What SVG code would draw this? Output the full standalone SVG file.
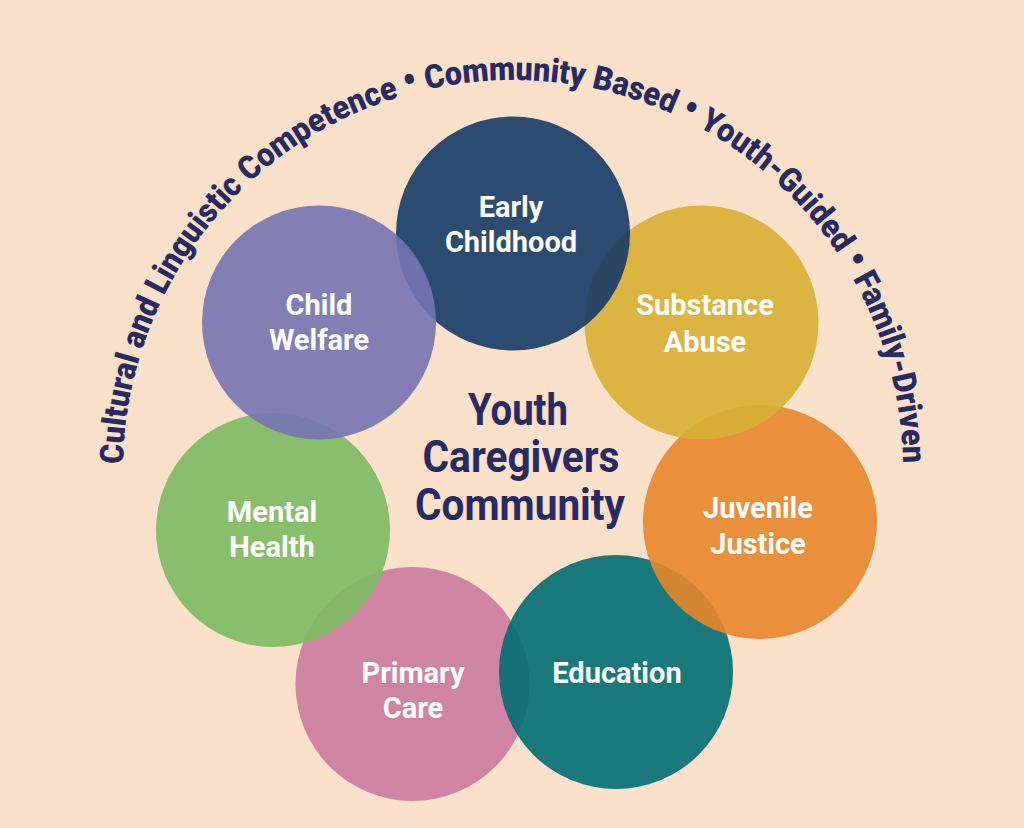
<svg xmlns="http://www.w3.org/2000/svg" xmlns:xlink="http://www.w3.org/1999/xlink" width="1024" height="828" viewBox="0 0 1024 828">
<style>
.bg{fill:#FBE1CA}
.c{fill-opacity:0.9}
.lbl{font-family:Roboto,"Liberation Sans",sans-serif;font-weight:700;font-size:29px;fill:#FFFFFF;text-anchor:middle}
.ctr{font-family:Roboto,"Liberation Sans",sans-serif;font-weight:700;font-size:45px;fill:#272B64;text-anchor:middle}
.arc{font-family:Roboto,"Liberation Sans",sans-serif;font-weight:900;font-size:33px;fill:#272B64}
.dot{font-size:40px}
</style>
<defs>
<path id="arcPath" d="M 123 470 A 390 390 0 0 1 903 470"/>
</defs>
<rect class="bg" x="0" y="0" width="1024" height="828"/>
<g id="connectors"></g>
<g id="primary-care"><circle class="c" cx="412.5" cy="684" r="117" fill="#CB7A9F"/><text class="lbl" x="413" y="683">Primary</text><text class="lbl" x="413" y="718">Care</text></g>
<g id="mental-health"><circle class="c" cx="273" cy="530" r="117" fill="#7CBB62"/><text class="lbl" x="272" y="522">Mental</text><text class="lbl" x="272" y="557">Health</text></g>
<g id="education"><circle class="c" cx="616" cy="672" r="117" fill="#006E73"/><text class="lbl" x="617" y="683">Education</text></g>
<g id="juvenile-justice"><circle class="c" cx="760" cy="522" r="117" fill="#E8862C"/><text class="lbl" x="758" y="518">Juvenile</text><text class="lbl" x="758" y="554">Justice</text></g>
<g id="substance-abuse"><circle class="c" cx="701.5" cy="322.5" r="117" fill="#D7AF33"/><text class="lbl" x="705" y="315">Substance</text><text class="lbl" x="705" y="352">Abuse</text></g>
<g id="early-childhood"><circle class="c" cx="513" cy="233.5" r="117" fill="#153B66"/><text class="lbl" x="511" y="217">Early</text><text class="lbl" x="511" y="252">Childhood</text></g>
<g id="child-welfare"><circle class="c" cx="319" cy="322.5" r="117" fill="#7674B2"/><text class="lbl" x="319" y="315">Child</text><text class="lbl" x="319" y="350">Welfare</text></g>
<g id="center">
<text class="ctr" x="518" y="425" textLength="100" lengthAdjust="spacingAndGlyphs">Youth</text>
<text class="ctr" x="521" y="472" textLength="197" lengthAdjust="spacingAndGlyphs">Caregivers</text>
<text class="ctr" x="520" y="520" textLength="210" lengthAdjust="spacingAndGlyphs">Community</text>
</g>
<g id="arc-text">
<text class="arc"><textPath xlink:href="#arcPath" href="#arcPath" startOffset="6" textLength="1212" lengthAdjust="spacingAndGlyphs">Cultural and Linguistic Competence <tspan class="dot">•</tspan> Community Based <tspan class="dot">•</tspan> Youth-Guided <tspan class="dot">•</tspan> Family-Driven</textPath></text>
</g>
</svg>
